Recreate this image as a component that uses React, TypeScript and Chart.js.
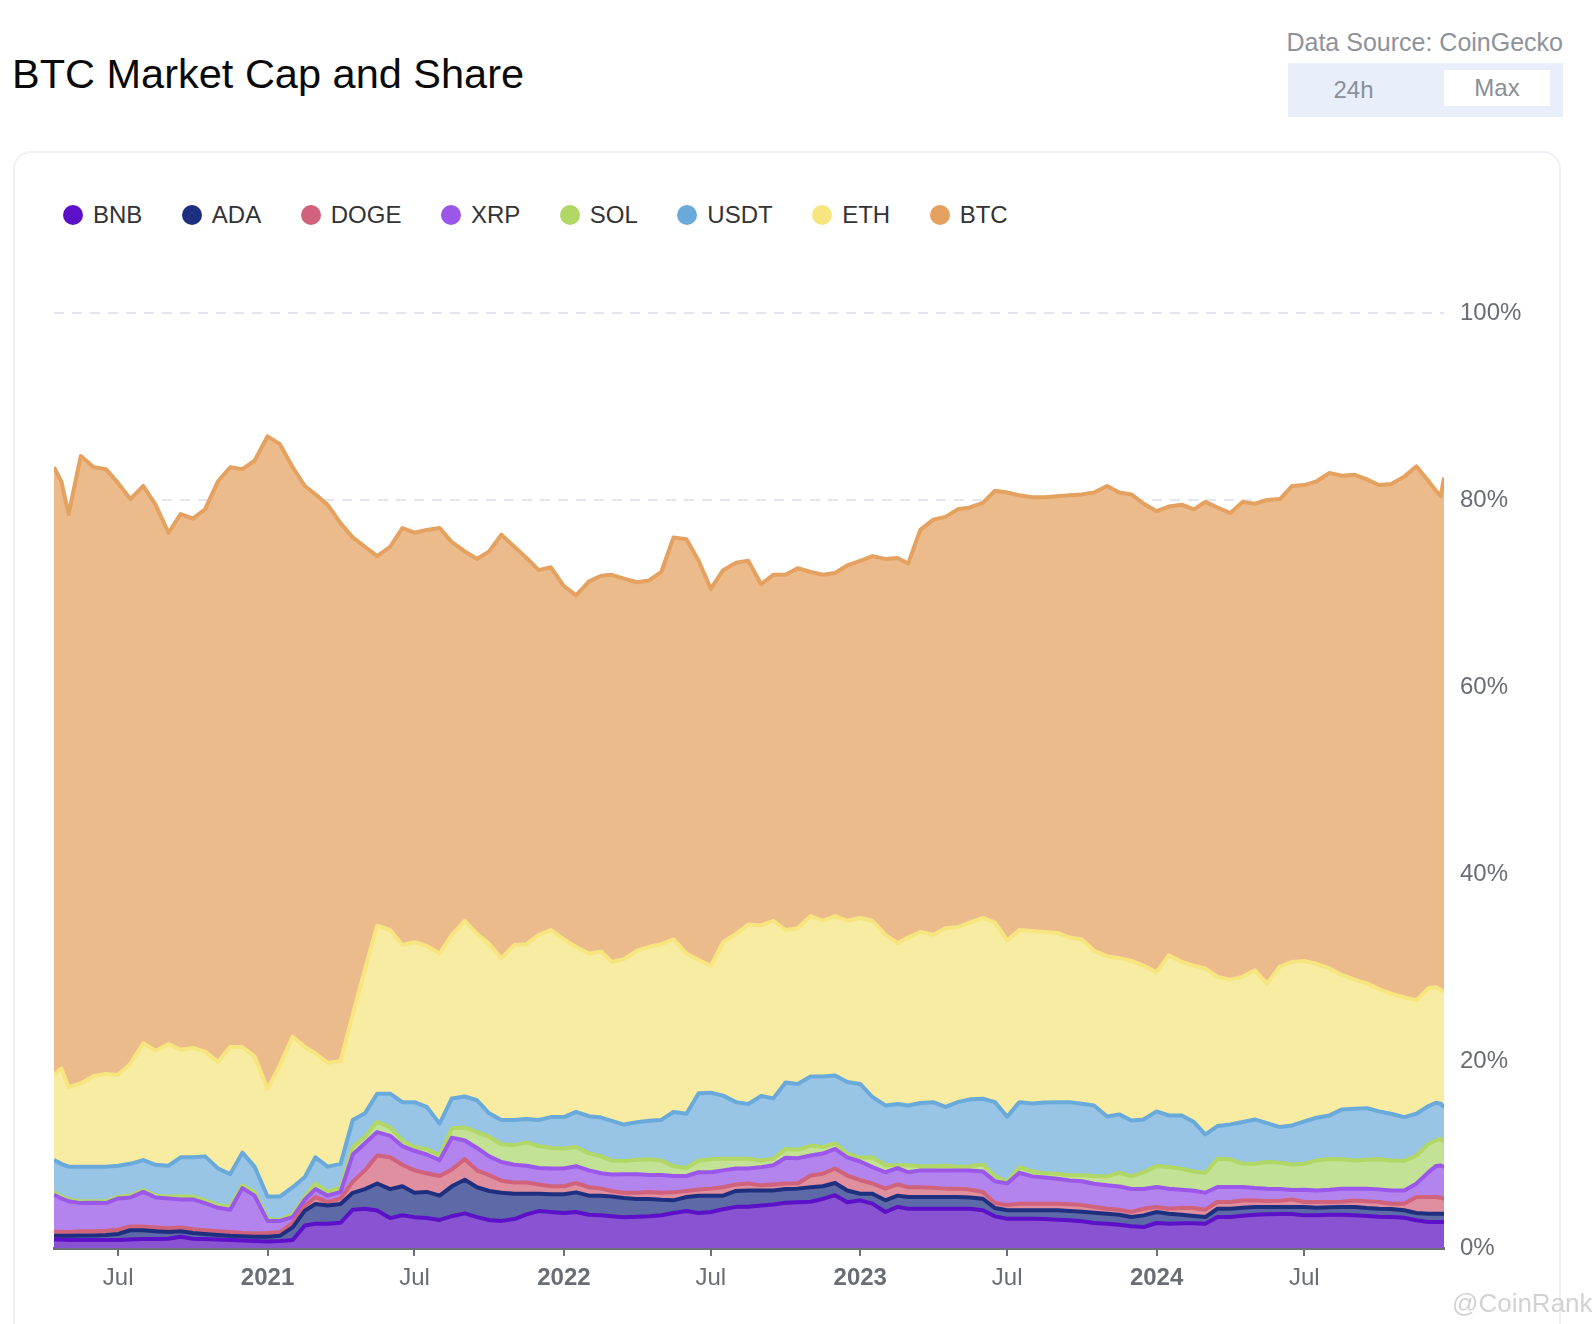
import React, { useEffect, useRef } from "react";
import { Chart, registerables } from "chart.js";

Chart.register(...registerables);

// Sample dates (categories of the time axis)
const dates = [
  "2020-04-13","2020-04-22","2020-05-01","2020-05-16","2020-06-01","2020-06-16","2020-07-01","2020-07-16","2020-08-01","2020-08-16",
  "2020-09-01","2020-09-16","2020-10-01","2020-10-16","2020-11-01","2020-11-16","2020-12-01","2020-12-16","2021-01-01","2021-01-16",
  "2021-02-01","2021-02-16","2021-03-01","2021-03-16","2021-04-01","2021-04-16","2021-05-01","2021-05-16","2021-06-01","2021-06-16",
  "2021-07-01","2021-07-16","2021-08-01","2021-08-16","2021-09-01","2021-09-16","2021-10-01","2021-10-16","2021-11-01","2021-11-16",
  "2021-12-01","2021-12-16","2022-01-01","2022-01-16","2022-02-01","2022-02-16","2022-03-01","2022-03-16","2022-04-01","2022-04-16",
  "2022-05-01","2022-05-16","2022-06-01","2022-06-16","2022-07-01","2022-07-16","2022-08-01","2022-08-16","2022-09-01","2022-09-16",
  "2022-10-01","2022-10-16","2022-11-01","2022-11-16","2022-12-01","2022-12-16","2023-01-01","2023-01-16","2023-02-01","2023-02-16",
  "2023-03-01","2023-03-16","2023-04-01","2023-04-16","2023-05-01","2023-05-16","2023-06-01","2023-06-16","2023-07-01","2023-07-16",
  "2023-08-01","2023-08-16","2023-09-01","2023-09-16","2023-10-01","2023-10-16","2023-11-01","2023-11-16","2023-12-01","2023-12-16",
  "2024-01-01","2024-01-16","2024-02-01","2024-02-16","2024-03-01","2024-03-16","2024-04-01","2024-04-16","2024-05-01","2024-05-16",
  "2024-06-01","2024-06-16","2024-07-01","2024-07-16","2024-08-01","2024-08-16","2024-09-01","2024-09-16","2024-10-01","2024-10-16",
  "2024-11-01","2024-11-16","2024-12-01","2024-12-10","2024-12-16","2024-12-20",
];

// Stacked share levels (% of total crypto market cap):
// each array is the upper edge of that coin's band.
const bnbLevel = [
  0.9,0.9,0.85,0.85,0.85,0.85,0.85,0.9,0.95,0.95,
  1.0,1.2,1.0,0.95,0.9,0.85,0.8,0.75,0.7,0.75,
  0.85,2.4,2.6,2.6,2.7,4.1,4.2,4.0,3.2,3.5,
  3.3,3.2,3.0,3.4,3.7,3.3,3.0,2.9,3.1,3.6,
  3.95,3.85,3.75,3.85,3.55,3.5,3.4,3.3,3.35,3.4,
  3.5,3.75,3.95,3.75,3.85,4.15,4.4,4.4,4.55,4.65,
  4.85,4.9,4.95,5.25,5.65,4.9,5.1,4.75,3.85,4.4,
  4.2,4.2,4.2,4.2,4.2,4.2,4.03,3.38,3.13,3.13,
  3.13,3.1,3.03,2.96,2.85,2.67,2.6,2.49,2.32,2.24,
  2.67,2.6,2.64,2.64,2.6,3.31,3.31,3.46,3.56,3.6,
  3.63,3.63,3.49,3.49,3.56,3.56,3.49,3.42,3.35,3.31,
  3.24,2.96,2.78,2.78,2.78,2.78,
];
const adaLevel = [
  1.3,1.3,1.3,1.35,1.35,1.4,1.5,1.9,1.9,1.8,
  1.7,1.8,1.6,1.5,1.4,1.3,1.25,1.2,1.2,1.3,
  2.2,4.0,4.7,4.55,4.7,5.9,6.3,6.9,6.3,6.6,
  5.9,6.0,5.6,6.6,7.3,6.5,6.1,5.9,5.8,5.8,
  5.8,5.75,5.75,5.95,5.6,5.6,5.5,5.35,5.25,5.25,
  5.15,5.1,5.45,5.6,5.6,5.6,6.1,6.15,6.15,6.15,
  6.3,6.35,6.5,6.6,6.95,6.15,5.8,5.8,5.1,5.6,
  5.45,5.45,5.45,5.45,5.45,5.4,5.27,4.27,4.03,4.03,
  4.03,4.03,4.03,3.95,3.88,3.78,3.67,3.56,3.31,3.49,
  3.85,3.67,3.56,3.42,3.31,4.2,4.2,4.31,4.38,4.38,
  4.38,4.38,4.38,4.31,4.35,4.38,4.38,4.27,4.2,4.17,
  4.03,3.74,3.67,3.67,3.67,3.67,
];
const dogeLevel = [
  1.75,1.75,1.7,1.8,1.8,1.85,1.95,2.3,2.3,2.2,
  2.1,2.2,2.0,1.9,1.8,1.7,1.6,1.55,1.6,1.7,
  2.7,4.5,5.45,4.9,5.3,7.1,8.3,9.9,9.7,8.9,
  8.3,8.0,7.7,8.4,9.5,8.3,7.8,7.2,7.0,7.0,
  6.8,6.6,6.6,6.95,6.5,6.35,6.1,5.9,5.9,6.0,
  5.9,5.95,6.1,6.25,6.35,6.5,6.8,6.9,6.7,6.8,
  6.9,6.9,7.75,7.95,8.5,7.75,7.25,6.9,6.35,6.8,
  6.5,6.5,6.45,6.35,6.35,6.25,5.98,4.81,4.6,4.74,
  4.74,4.74,4.74,4.67,4.6,4.38,4.2,4.1,3.85,4.2,
  4.38,4.2,4.31,4.27,4.1,4.92,4.92,5.09,5.09,5.02,
  5.06,5.2,4.92,4.92,4.92,4.95,5.09,4.99,4.92,4.74,
  4.74,5.45,5.45,5.45,5.38,5.27,
];
const xrpLevel = [
  5.7,5.3,5.0,4.8,4.85,4.8,5.3,5.4,6.0,5.4,
  5.3,5.2,5.2,4.8,4.3,4.1,6.4,5.6,2.9,2.9,
  3.3,5.2,6.3,5.6,6.0,10.0,11.2,12.4,12.0,10.9,
  10.4,10.0,9.4,11.8,11.5,10.7,9.8,9.2,8.9,8.8,
  8.55,8.5,8.5,8.75,8.3,8.0,7.85,7.9,7.9,7.8,
  7.8,7.7,7.7,8.1,8.1,8.3,8.5,8.5,8.65,8.85,
  9.65,9.6,9.9,10.1,10.6,9.7,9.25,8.65,8.1,8.55,
  8.1,8.3,8.3,8.3,8.3,8.3,8.19,7.13,6.91,8.05,
  7.66,7.55,7.41,7.23,7.13,6.88,6.7,6.59,6.31,6.31,
  6.52,6.34,6.23,6.13,5.91,6.52,6.52,6.52,6.41,6.34,
  6.31,6.2,6.23,6.16,6.23,6.34,6.34,6.34,6.27,6.16,
  6.16,6.88,8.12,8.76,8.83,8.66,
];
const solLevel = [
  6.0,5.5,5.2,5.0,5.0,5.0,5.5,5.6,6.2,5.6,
  5.5,5.5,5.5,5.1,4.6,4.4,6.7,6.0,3.1,3.0,
  3.6,5.5,6.9,6.0,6.5,10.8,11.9,13.5,12.9,11.5,
  10.8,10.6,9.9,12.8,12.9,12.4,11.9,11.1,11.0,11.3,
  10.9,10.7,10.65,10.8,10.1,9.8,9.35,9.3,9.45,9.5,
  9.35,8.75,8.55,9.35,9.5,9.55,9.55,9.55,9.35,9.55,
  10.6,10.5,10.95,10.8,11.2,10.1,9.65,9.7,8.85,8.85,
  8.85,8.75,8.75,8.8,8.7,8.75,8.94,7.7,7.09,8.66,
  8.19,8.0,7.94,7.77,7.77,7.7,7.66,8.05,7.66,8.12,
  8.76,8.66,8.48,8.19,8.05,9.55,9.48,9.01,9.01,9.19,
  9.12,8.94,9.01,9.37,9.51,9.48,9.37,9.44,9.48,9.37,
  9.3,9.9,11.15,11.5,11.68,11.33,
];
const usdtLevel = [
  9.4,9.0,8.7,8.7,8.7,8.7,8.8,9.0,9.4,8.9,
  8.8,9.7,9.7,9.8,8.5,7.9,10.2,8.7,5.5,5.5,
  6.5,7.6,9.7,8.7,9.0,13.7,14.4,16.5,16.5,15.6,
  15.6,15.1,13.3,16.0,16.2,15.8,14.4,13.7,13.7,13.8,
  13.7,14.0,14.0,14.55,14.1,13.95,13.6,13.2,13.45,13.6,
  13.7,14.55,14.35,16.55,16.6,16.3,15.6,15.4,16.25,16.0,
  17.7,17.55,18.35,18.35,18.45,17.75,17.55,16.15,15.25,15.4,
  15.25,15.5,15.6,15.1,15.6,15.9,15.96,15.6,14.04,15.6,
  15.46,15.57,15.6,15.6,15.43,15.25,14.07,14.29,13.64,13.75,
  14.61,14.18,14.18,13.47,12.15,13.04,13.22,13.47,13.75,13.36,
  12.93,13.11,13.54,13.93,14.18,14.82,14.89,14.96,14.61,14.36,
  14.0,14.36,15.18,15.53,15.43,15.07,
];
const ethLevel = [
  18.5,19.2,17.2,17.6,18.4,18.6,18.5,19.7,21.9,21.1,
  21.8,21.2,21.4,21.0,19.9,21.5,21.5,20.5,17.0,19.5,
  22.6,21.5,20.8,19.8,20.0,25.0,29.8,34.5,34.0,32.4,
  32.7,32.3,31.5,33.5,35.0,33.6,32.5,31.0,32.4,32.5,
  33.5,34.0,33.0,32.2,31.5,31.7,30.6,30.9,31.8,32.2,
  32.5,33.0,31.5,30.8,30.2,32.7,33.6,34.6,34.5,35.0,
  34.0,34.2,35.5,35.0,35.5,35.0,35.3,35.0,33.5,32.6,
  33.2,33.8,33.5,34.2,34.3,34.8,35.3,34.8,32.9,34.0,
  33.9,33.8,33.7,33.2,33.0,31.8,31.2,31.0,30.7,30.2,
  29.5,31.3,30.6,30.2,29.9,29.0,28.7,29.0,29.7,28.3,
  30.1,30.6,30.7,30.4,29.9,29.2,28.7,28.3,27.7,27.2,
  26.8,26.5,27.8,27.9,27.6,27.4,
];
const btcLevel = [
  83.5,82.0,78.5,84.7,83.5,83.3,81.8,80.1,81.5,79.5,
  76.5,78.5,78.0,79.0,82.0,83.5,83.3,84.2,86.8,86.0,
  83.5,81.5,80.6,79.5,77.5,76.0,75.0,74.0,75.0,77.0,
  76.5,76.8,77.0,75.5,74.5,73.7,74.5,76.3,75.0,73.8,
  72.5,72.8,70.8,69.8,71.3,71.9,72.0,71.6,71.2,71.4,
  72.3,76.0,75.8,73.5,70.5,72.5,73.3,73.5,71.0,72.0,
  72.0,72.7,72.3,72.0,72.2,73.0,73.5,74.0,73.7,73.8,
  73.2,76.8,77.9,78.2,79.0,79.2,79.7,81.0,80.8,80.5,
  80.3,80.3,80.4,80.5,80.6,80.8,81.5,80.8,80.6,79.6,
  78.8,79.3,79.5,79.0,79.8,79.2,78.6,79.8,79.6,80.0,
  80.1,81.5,81.6,82.0,82.9,82.6,82.7,82.2,81.6,81.7,
  82.5,83.6,82.0,81.0,80.4,82.4,
];

const coins = ["BNB", "ADA", "DOGE", "XRP", "SOL", "USDT", "ETH", "BTC"];
const lineColors = ["#5c10c7", "#1f2f80", "#d0627b", "#9b56ea", "#b1d766", "#6aaadb", "#f7e57f", "#e4a160"];
const fillColors = ["#8a53d2", "#5e6aa7", "#df8f9e", "#b384ee", "#c3e296", "#98c4e5", "#f8eca3", "#ebbb8c"];

const xTickDates = ["2020-07-01", "2021-01-01", "2021-07-01", "2022-01-01", "2022-07-01", "2023-01-01", "2023-07-01", "2024-01-01", "2024-07-01"];
const xTickLabels = ["Jul", "2021", "Jul", "2022", "Jul", "2023", "Jul", "2024", "Jul"];
const yTickValues = [0, 20, 40, 60, 80, 100];

const FONT = '"Liberation Sans", Arial, Helvetica, sans-serif';

function ShareChart() {
  const ref = useRef<HTMLCanvasElement | null>(null);
  useEffect(() => {
    if (!ref.current) return;
    Chart.defaults.font.family = FONT;
    const levels = [bnbLevel, adaLevel, dogeLevel, xrpLevel, solLevel, usdtLevel, ethLevel, btcLevel];
    const chart = new Chart(ref.current, {
      type: "line",
      data: {
        datasets: coins.map((name, i) => ({
          label: name,
          data: dates.map((d, j) => ({ x: Date.parse(d), y: levels[i][j] })),
          borderColor: lineColors[i],
          backgroundColor: fillColors[i],
          fill: i === 0 ? "origin" : "-1",
          borderWidth: 4,
          pointRadius: 0,
          tension: 0,
          borderJoinStyle: "round",
        })),
      },
      options: {
        responsive: false,
        animation: false,
        events: [],
        layout: { padding: { top: 33, left: 54, right: 0, bottom: 0 } },
        plugins: { legend: { display: false }, tooltip: { enabled: false } },
        scales: {
          x: {
            type: "linear",
            min: Date.parse(dates[0]),
            max: Date.parse(dates[dates.length - 1]),
            afterBuildTicks: (s: any) => {
              s.ticks = xTickDates.map((d, i) => ({ value: Date.parse(d), major: xTickLabels[i] !== "Jul" }));
            },
            afterFit: (s: any) => {
              s.height = 52;
            },
            ticks: {
              autoSkip: false,
              maxRotation: 0,
              padding: 8,
              color: "#6b6d76",
              font: (ctx: any) => ({ size: 24, family: FONT, weight: ctx.tick && ctx.tick.major ? "bold" : "normal" }),
              callback: (_v: any, i: number) => xTickLabels[i],
            },
            grid: { drawOnChartArea: false, drawTicks: true, tickLength: 8, color: "#6e7079", lineWidth: 2 },
            border: { display: true, color: "#6e7079", width: 3 },
          },
          y: {
            position: "right",
            min: 0,
            max: 100,
            afterBuildTicks: (s: any) => {
              s.ticks = yTickValues.map((v) => ({ value: v }));
            },
            afterFit: (s: any) => {
              s.width = 148;
            },
            ticks: {
              padding: 16,
              color: "#6b6d76",
              font: { size: 24, family: FONT },
              callback: (v: any) => v + "%",
            },
            grid: { color: "#e3e6ee", lineWidth: 2, drawTicks: false, tickLength: 0 },
            border: { display: false, dash: [10, 8] },
          },
        },
      },
    } as any);
    return () => chart.destroy();
  }, []);
  return (
    <canvas
      ref={ref}
      width={1592}
      height={1020}
      style={{ position: "absolute", left: 0, top: 280, width: 1592, height: 1020 }}
    />
  );
}

export default function App() {
  return (
    <div
      style={{
        position: "absolute",
        left: 0,
        top: 0,
        width: 1592,
        height: 1324,
        overflow: "hidden",
        background: "#ffffff",
        fontFamily: FONT,
      }}
    >
      <div style={{ position: "absolute", left: 12, top: 53, fontSize: 41.5, lineHeight: "42px", color: "#0a0a0a", whiteSpace: "nowrap" }}>
        BTC Market Cap and Share
      </div>
      <div style={{ position: "absolute", right: 29, top: 30, fontSize: 25, lineHeight: "25px", color: "#8e929b", whiteSpace: "nowrap" }}>
        Data Source: CoinGecko
      </div>
      <div style={{ position: "absolute", left: 1288, top: 63, width: 275, height: 54, background: "#e9effa" }}>
        <div style={{ position: "absolute", left: 0, top: 0, width: 131, height: 54, display: "flex", alignItems: "center", justifyContent: "center", fontSize: 24, color: "#8b8f99" }}>
          24h
        </div>
        <div style={{ position: "absolute", left: 156, top: 7, width: 106, height: 36, background: "#ffffff", display: "flex", alignItems: "center", justifyContent: "center", fontSize: 24, color: "#8b8f99" }}>
          Max
        </div>
      </div>
      <div
        style={{
          position: "absolute",
          left: 13,
          top: 151,
          width: 1548,
          height: 1300,
          border: "2px solid #eef0f4",
          borderRadius: 18,
          boxSizing: "border-box",
        }}
      />
      <div style={{ position: "absolute", left: 63, top: 203, height: 24, display: "flex", alignItems: "center" }}>
        {coins.map((name, i) => (
          <div key={name} style={{ display: "flex", alignItems: "center", marginRight: 39.5 }}>
            <span style={{ display: "inline-block", width: 20, height: 20, borderRadius: 10, background: lineColors[i], marginRight: 10 }} />
            <span style={{ fontSize: 24, lineHeight: "24px", color: "#333333", whiteSpace: "nowrap" }}>{name}</span>
          </div>
        ))}
      </div>
      <ShareChart />
      <div style={{ position: "absolute", left: 1452, top: 1289, fontSize: 26, lineHeight: "28px", color: "#d2d2d2", whiteSpace: "nowrap" }}>
        @CoinRank
      </div>
    </div>
  );
}
